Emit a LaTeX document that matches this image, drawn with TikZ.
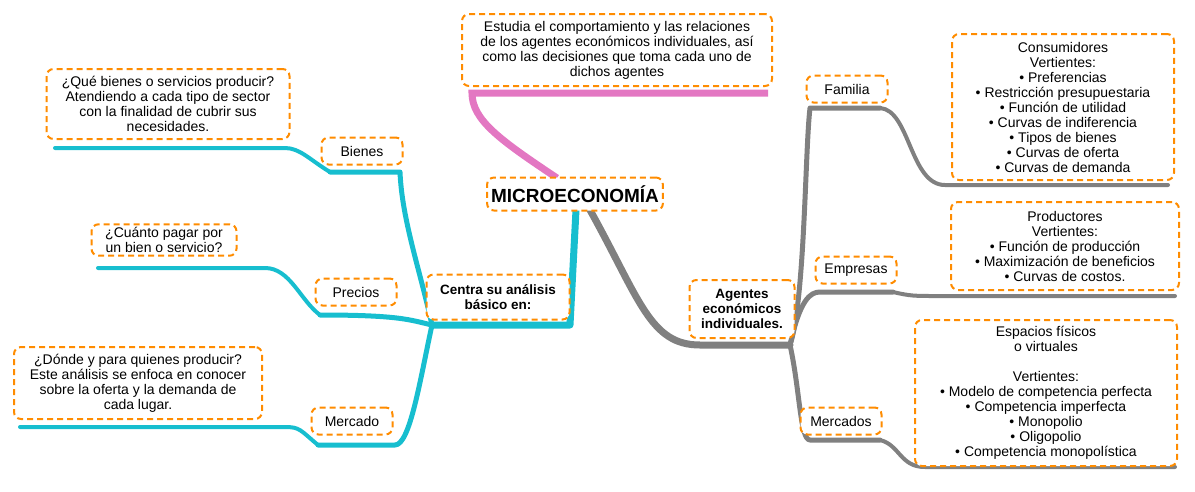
\documentclass[tikz,border=0pt]{standalone}
\usepackage{fontspec}
\setmainfont{Liberation Sans}
\begin{document}
\begin{tikzpicture}[x=1pt,y=-1pt,
 box/.style={draw=orange!90!yellow,line width=2pt,dash pattern=on 6pt off 4pt,rounded corners=7pt,fill=white,align=center,font=\fontsize{14}{15}\selectfont,inner sep=4pt},
 sm/.style={box,minimum width=81pt,minimum height=27pt},
 cy/.style={draw={rgb,255:red,23;green,190;blue,207},line cap=round,line join=round},
 gr/.style={draw={rgb,255:red,128;green,128;blue,128},line cap=round,line join=round},
 pk/.style={draw={rgb,255:red,227;green,119;blue,194},line width=7pt}]
\useasboundingbox (0,0) rectangle (1195,491);
% pink
\draw[pk] (557,178) .. controls (500,140) and (472,120) .. (472,93) -- (768,93);
% cyan
\coordinate (j) at (432,325);
\draw[cy,line width=7pt] (576,210) -- (570,325) -- (j);
\draw[cy,line width=5pt] (j) .. controls (420,270) and (402,220) .. (400,172) -- (330,172);
\draw[cy,line width=4pt] (330,172) .. controls (310,160) and (300,148) .. (285,148) -- (55,148);
\draw[cy,line width=5pt] (j) .. controls (410,320) and (400,315) .. (320,315);
\draw[cy,line width=4pt] (320,315) .. controls (300,300) and (290,268) .. (265,268) -- (98,268);
\draw[cy,line width=5pt] (j) .. controls (420,380) and (410,445) .. (395,445) -- (318,445);
\draw[cy,line width=4pt] (318,445) .. controls (300,430) and (300,427) .. (285,427) -- (20,427);
% grey
\coordinate (g) at (790,345);
\draw[gr,line width=7pt] (590,210) .. controls (640,300) and (650,345) .. (700,345) -- (g);
\draw[gr,line width=5pt] (g) .. controls (805,300) and (805,150) .. (810,108) -- (880,108);
\draw[gr,line width=4pt] (880,108) .. controls (910,110) and (910,185) .. (945,185) -- (1168,185);
\draw[gr,line width=5pt] (g) .. controls (800,300) and (810,292) .. (820,292) -- (893,292);
\draw[gr,line width=4pt] (893,292) .. controls (910,296) and (915,296) .. (935,296) -- (1175,296);
\draw[gr,line width=5pt] (g) .. controls (800,390) and (800,440) .. (810,440) -- (880,440);
\draw[gr,line width=4pt] (880,440) .. controls (900,445) and (900,467) .. (925,467) -- (1175,467);
% nodes
\node[box,font=\fontsize{19}{21}\selectfont\bfseries,minimum height=33pt] (m) at (575,194) {MICROECONOMÍA};
\node[box,inner sep=2pt,minimum width=310pt,minimum height=72pt] (t) at (617,50) {Estudia el comportamiento y las relaciones\\de los agentes económicos individuales, así\\como las decisiones que toma cada uno de\\dichos agentes};
\node[box,font=\fontsize{13.5}{15}\selectfont\bfseries,minimum height=45pt,minimum width=143pt] (c) at (498,297) {Centra su análisis\\básico en:};
\node[sm] (b) at (362,151) {Bienes};
\node[sm] (p) at (356,292) {Precios};
\node[sm] (me) at (352,421) {Mercado};
\node[box,inner sep=3pt,minimum width=243pt,minimum height=70pt] (qb) at (168,104) {¿Qué bienes o servicios producir?\\Atendiendo a cada tipo de sector\\con la finalidad de cubrir sus\\necesidades.};
\node[box,inner sep=3pt,minimum width=145pt] (qp) at (164,240) {¿Cuánto pagar por\\un bien o servicio?};
\node[box,inner sep=3pt,minimum width=248pt,minimum height=72pt] (qm) at (138,383) {¿Dónde y para quienes producir?\\Este análisis se enfoca en conocer\\sobre la oferta y la demanda de\\cada lugar.};
\node[box,font=\fontsize{13.5}{15}\selectfont\bfseries,inner sep=3pt,minimum height=58pt,minimum width=105pt] (a) at (742,309) {Agentes\\económicos\\individuales.};
\node[sm] (f) at (847,89) {Familia};
\node[sm] (e) at (856,270) {Empresas};
\node[sm] (ms) at (841,421) {Mercados};
\node[box,minimum width=222pt,minimum height=146pt] (k) at (1063,107) {Consumidores\\Vertientes:\\• Preferencias\\• Restricción presupuestaria\\• Función de utilidad\\• Curvas de indiferencia\\• Tipos de bienes\\• Curvas de oferta\\• Curvas de demanda};
\node[box,minimum width=228pt,minimum height=88pt] (pr) at (1065,246) {Productores\\Vertientes:\\• Función de producción\\• Maximización de beneficios\\• Curvas de costos.};
\node[box,minimum width=262pt,minimum height=146pt] (es) at (1046,393) {Espacios físicos\\o virtuales\\\\Vertientes:\\• Modelo de competencia perfecta\\• Competencia imperfecta\\• Monopolio\\• Oligopolio\\• Competencia monopolística};
\end{tikzpicture}
\end{document}
